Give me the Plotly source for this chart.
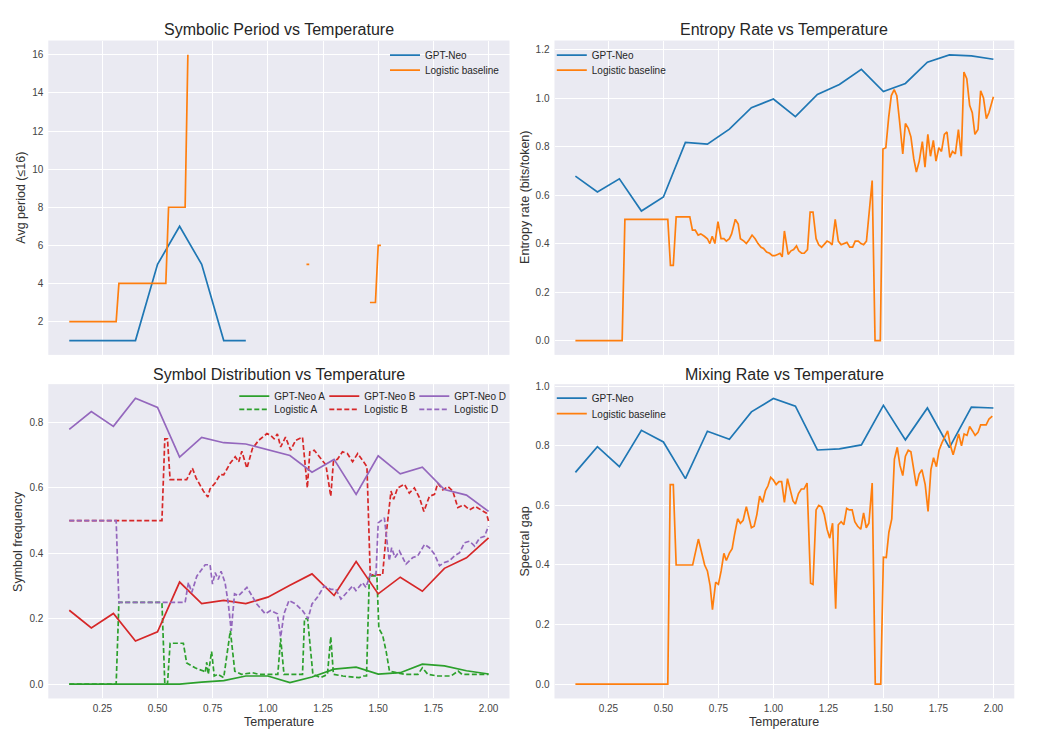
import plotly.graph_objects as go

# ---------------- data ----------------
T = [0.1, 0.2, 0.3, 0.4, 0.5, 0.6, 0.7, 0.8, 0.9, 1.0,
     1.1, 1.2, 1.3, 1.4, 1.5, 1.6, 1.7, 1.8, 1.9, 2.0]

period_neo = [1, 1, 1, 1, 5, 7, 5, 1, 1, None,
              None, None, None, None, None, None, None, None, None, None]

period_log_T = [0.1, 0.3125, 0.325, 0.5375, 0.55, 0.625, 0.6375, 0.65,
                1.175, 1.1875, 1.2, 1.4625, 1.475, 1.4875, 1.5, 1.5125]
period_log = [2, 2, 4, 4, 8, 8, 16, None,
              5, 5, None, 3, 3, 3, 6, 6]

entropy_neo = [0.678, 0.613, 0.667, 0.534, 0.592, 0.817, 0.810, 0.872, 0.960, 0.996,
               0.923, 1.015, 1.056, 1.118, 1.027, 1.060, 1.148, 1.178, 1.174, 1.160]

entropy_log_T = [0.1, 0.3125, 0.325, 0.52, 0.532, 0.545, 0.558, 0.62, 0.632, 0.645,
                 0.658, 0.67, 0.686, 0.70, 0.711, 0.722, 0.734, 0.748, 0.762, 0.775,
                 0.786, 0.80, 0.81, 0.827, 0.84, 0.85, 0.866, 0.877, 0.889, 0.903,
                 0.917, 0.93, 0.944, 0.955, 0.969, 0.983, 0.995, 1.006, 1.019, 1.03,
                 1.04, 1.05, 1.067, 1.08, 1.092, 1.105, 1.115, 1.128, 1.14, 1.155,
                 1.167, 1.18, 1.194, 1.206, 1.219, 1.23, 1.244, 1.256, 1.267, 1.281,
                 1.295, 1.308, 1.32, 1.334, 1.347, 1.36, 1.372, 1.386, 1.398, 1.41,
                 1.423, 1.436, 1.449, 1.462, 1.486, 1.498, 1.511, 1.524, 1.536, 1.549,
                 1.561, 1.574, 1.588, 1.6, 1.613, 1.625, 1.638, 1.65, 1.663, 1.677,
                 1.689, 1.702, 1.714, 1.727, 1.739, 1.752, 1.764, 1.777, 1.789, 1.802,
                 1.814, 1.827, 1.841, 1.854, 1.866, 1.879, 1.892, 1.904, 1.916, 1.93,
                 1.942, 1.955, 1.968, 1.98, 2.0]
entropy_log = [0.0, 0.0, 0.50, 0.50, 0.31, 0.31, 0.51, 0.51, 0.455, 0.455,
               0.435, 0.44, 0.43, 0.42, 0.40, 0.43, 0.40, 0.49, 0.42, 0.42,
               0.41, 0.42, 0.44, 0.50, 0.48, 0.42, 0.41, 0.40, 0.415, 0.435,
               0.42, 0.40, 0.385, 0.38, 0.365, 0.36, 0.35, 0.35, 0.355, 0.36,
               0.345, 0.452, 0.355, 0.37, 0.375, 0.39, 0.37, 0.36, 0.36, 0.375,
               0.53, 0.53, 0.42, 0.395, 0.385, 0.395, 0.41, 0.405, 0.395, 0.50,
               0.41, 0.395, 0.40, 0.405, 0.385, 0.385, 0.41, 0.41, 0.40, 0.395,
               0.41, 0.55, 0.66, 0.0, 0.0, 0.79, 0.795, 0.92, 1.01, 1.035,
               1.01, 0.90, 0.77, 0.895, 0.875, 0.84, 0.75, 0.695, 0.74, 0.82,
               0.715, 0.85, 0.76, 0.825, 0.74, 0.795, 0.78, 0.85, 0.86, 0.755,
               0.78, 0.77, 0.87, 0.76, 1.107, 1.08, 0.97, 0.94, 0.85, 0.87,
               1.03, 1.00, 0.915, 0.94, 1.005]

mix_neo = [0.711, 0.797, 0.730, 0.852, 0.813, 0.690, 0.849, 0.822, 0.914, 0.959,
           0.933, 0.786, 0.790, 0.803, 0.936, 0.820, 0.927, 0.794, 0.930, 0.927]

mix_log_T = [0.1, 0.52, 0.531, 0.545, 0.558, 0.633, 0.659, 0.6875, 0.70, 0.7125,
             0.723, 0.7375, 0.75, 0.7625, 0.775, 0.786, 0.80, 0.8125, 0.823, 0.8375,
             0.85, 0.8625, 0.877, 0.889, 0.90, 0.9125, 0.925, 0.9375, 0.951, 0.964,
             0.975, 0.9875, 1.0, 1.0125, 1.025, 1.0375, 1.05, 1.064, 1.077, 1.089,
             1.10, 1.114, 1.127, 1.139, 1.153, 1.169, 1.18, 1.194, 1.206, 1.219,
             1.231, 1.244, 1.256, 1.269, 1.283, 1.295, 1.308, 1.32, 1.333, 1.345,
             1.358, 1.37, 1.383, 1.397, 1.41, 1.422, 1.434, 1.449, 1.463, 1.488,
             1.5, 1.513, 1.525, 1.538, 1.55, 1.563, 1.575, 1.588, 1.6, 1.613,
             1.625, 1.6375, 1.65, 1.6625, 1.675, 1.69, 1.703, 1.716, 1.728, 1.741,
             1.753, 1.766, 1.778, 1.792, 1.805, 1.817, 1.83, 1.842, 1.855, 1.867,
             1.88, 1.892, 1.905, 1.917, 1.93, 1.942, 1.955, 1.967, 1.98, 1.995]
mix_log = [0.0, 0.0, 0.67, 0.67, 0.40, 0.40, 0.487, 0.40, 0.38, 0.33,
           0.25, 0.342, 0.335, 0.38, 0.439, 0.415, 0.44, 0.455, 0.50, 0.555,
           0.54, 0.55, 0.596, 0.555, 0.525, 0.53, 0.57, 0.631, 0.61, 0.65,
           0.665, 0.694, 0.685, 0.67, 0.68, 0.68, 0.61, 0.69, 0.655, 0.615,
           0.605, 0.64, 0.655, 0.655, 0.675, 0.339, 0.335, 0.585, 0.60, 0.595,
           0.57, 0.52, 0.49, 0.54, 0.253, 0.535, 0.545, 0.535, 0.59, 0.585,
           0.585, 0.545, 0.53, 0.52, 0.575, 0.525, 0.54, 0.675, 0.0, 0.0,
           0.426, 0.425, 0.51, 0.555, 0.755, 0.795, 0.735, 0.70, 0.765, 0.785,
           0.78, 0.72, 0.665, 0.705, 0.72, 0.67, 0.58, 0.72, 0.76, 0.73,
           0.785, 0.81, 0.83, 0.85, 0.80, 0.77, 0.805, 0.84, 0.80, 0.84,
           0.835, 0.865, 0.85, 0.835, 0.845, 0.87, 0.87, 0.87, 0.89, 0.90]

neo_A = [0.0, 0.0, 0.0, 0.0, 0.0, 0.0, 0.006, 0.011, 0.025, 0.025,
         0.005, 0.022, 0.046, 0.052, 0.031, 0.035, 0.061, 0.056, 0.041, 0.031]
neo_B = [0.226, 0.172, 0.216, 0.132, 0.160, 0.312, 0.246, 0.256, 0.246, 0.266,
         0.302, 0.337, 0.271, 0.375, 0.276, 0.327, 0.284, 0.354, 0.386, 0.447]
neo_D = [0.779, 0.833, 0.788, 0.874, 0.846, 0.694, 0.754, 0.738, 0.734, 0.716,
         0.699, 0.648, 0.687, 0.580, 0.698, 0.643, 0.663, 0.595, 0.578, 0.528]

log_A_T = [0.1, 0.3125, 0.325, 0.52, 0.533, 0.545, 0.557, 0.617, 0.632, 0.67,
           0.708, 0.716, 0.723, 0.73, 0.745, 0.757, 0.773, 0.80, 0.83, 0.85,
           0.88, 0.93, 0.96, 1.013, 1.045, 1.058, 1.073, 1.10, 1.157, 1.166,
           1.18, 1.204, 1.24, 1.27, 1.285, 1.297, 1.34, 1.414, 1.434, 1.447,
           1.46, 1.494, 1.503, 1.52, 1.536, 1.551, 1.58, 1.62, 1.68, 1.70,
           1.725, 1.77, 1.83, 1.862, 1.88, 1.95, 2.0]
log_A = [0.0, 0.0, 0.25, 0.25, 0.0, 0.0, 0.125, 0.125, 0.065, 0.05,
         0.04, 0.035, 0.067, 0.03, 0.10, 0.025, 0.03, 0.02, 0.164, 0.04,
         0.03, 0.035, 0.03, 0.03, 0.03, 0.14, 0.03, 0.03, 0.03, 0.20,
         0.20, 0.03, 0.02, 0.03, 0.145, 0.03, 0.025, 0.02, 0.025, 0.025,
         0.331, 0.331, 0.17, 0.15, 0.10, 0.04, 0.035, 0.03, 0.03, 0.05,
         0.03, 0.025, 0.025, 0.04, 0.03, 0.03, 0.03]

log_B_T = [0.1, 0.52, 0.533, 0.545, 0.557, 0.632, 0.658, 0.675, 0.708, 0.728,
           0.738, 0.761, 0.784, 0.80, 0.829, 0.852, 0.868, 0.882, 0.905, 0.93,
           0.958, 0.996, 1.013, 1.028, 1.043, 1.058, 1.08, 1.103, 1.126, 1.157,
           1.179, 1.19, 1.21, 1.24, 1.263, 1.285, 1.297, 1.316, 1.338, 1.36,
           1.384, 1.407, 1.43, 1.449, 1.464, 1.52, 1.535, 1.558, 1.57, 1.588,
           1.619, 1.641, 1.664, 1.687, 1.707, 1.732, 1.755, 1.77, 1.793, 1.816,
           1.838, 1.861, 1.888, 1.914, 1.94, 1.964, 1.99, 2.0]
log_B = [0.5, 0.5, 0.75, 0.75, 0.625, 0.625, 0.66, 0.63, 0.59, 0.572,
         0.597, 0.615, 0.641, 0.64, 0.675, 0.695, 0.68, 0.712, 0.66, 0.72,
         0.745, 0.766, 0.76, 0.75, 0.765, 0.725, 0.755, 0.715, 0.745, 0.755,
         0.60, 0.71, 0.715, 0.69, 0.67, 0.574, 0.68, 0.688, 0.71, 0.705,
         0.68, 0.705, 0.685, 0.665, 0.334, 0.334, 0.45, 0.59, 0.565, 0.60,
         0.611, 0.584, 0.60, 0.57, 0.528, 0.574, 0.58, 0.614, 0.594, 0.604,
         0.59, 0.54, 0.548, 0.533, 0.543, 0.533, 0.523, 0.498]

log_D_T = [0.1, 0.3125, 0.325, 0.625, 0.64, 0.655, 0.678, 0.716, 0.738, 0.749,
           0.761, 0.775, 0.788, 0.806, 0.82, 0.834, 0.849, 0.867, 0.905, 0.928,
           0.95, 0.988, 1.013, 1.043, 1.058, 1.073, 1.096, 1.126, 1.157, 1.182,
           1.2, 1.225, 1.255, 1.285, 1.308, 1.331, 1.353, 1.384, 1.399, 1.429,
           1.444, 1.464, 1.49, 1.5, 1.528, 1.55, 1.561, 1.576, 1.596, 1.626,
           1.657, 1.679, 1.71, 1.732, 1.755, 1.778, 1.8, 1.823, 1.846, 1.869,
           1.891, 1.914, 1.937, 1.96, 1.982, 2.0]
log_D = [0.5, 0.5, 0.25, 0.25, 0.311, 0.28, 0.33, 0.365, 0.365, 0.306,
         0.341, 0.32, 0.345, 0.31, 0.25, 0.163, 0.276, 0.27, 0.296, 0.27,
         0.245, 0.215, 0.225, 0.215, 0.144, 0.215, 0.256, 0.245, 0.225, 0.20,
         0.245, 0.266, 0.30, 0.29, 0.29, 0.26, 0.276, 0.30, 0.286, 0.31,
         0.296, 0.334, 0.336, 0.493, 0.508, 0.377, 0.417, 0.387, 0.407, 0.367,
         0.387, 0.392, 0.427, 0.417, 0.397, 0.362, 0.372, 0.377, 0.392, 0.402,
         0.432, 0.437, 0.422, 0.447, 0.452, 0.483]

x_ticks = [0.25, 0.5, 0.75, 1.0, 1.25, 1.5, 1.75, 2.0]

# ---------------- style / layout ----------------
W, H = 1061, 739
BLUE, ORANGE = "#1f77b4", "#ff7f0e"
GREEN, RED, PURPLE = "#2ca02c", "#d62728", "#9467bd"
FONT = "Liberation Sans, Arial, sans-serif"
LW = 1.7
DASH = "5px,2.5px"

def fx(px):
    return px / W

def fy(py):
    return 1 - py / H

COLS = [(48.3, 509.5), (554.5, 1014.3)]
ROWS = [(37.7, 353.3), (382.7, 698.3)]

fig = go.Figure()

def line(x, y, color, name, xa, ya, legend, dash=None, lw=None):
    tr = go.Scatter(
        x=x, y=y, mode="lines", name=name, showlegend=True,
        line=dict(color=color, width=LW, dash=dash),
        xaxis=xa, yaxis=ya, legend=legend, connectgaps=False,
    )
    if lw is not None:
        tr.legendwidth = lw
    fig.add_trace(tr)

# panel 1: period
line(T, period_neo, BLUE, "GPT-Neo", "x", "y", "legend")
line(period_log_T, period_log, ORANGE, "Logistic baseline", "x", "y", "legend2")
# panel 2: entropy
line(T, entropy_neo, BLUE, "GPT-Neo", "x2", "y2", "legend3")
line(entropy_log_T, entropy_log, ORANGE, "Logistic baseline", "x2", "y2", "legend4")
# panel 3: symbol distribution
line(T, neo_A, GREEN, "GPT-Neo A", "x3", "y3", "legend5")
line(log_A_T, log_A, GREEN, "Logistic A", "x3", "y3", "legend6", DASH)
line(T, neo_B, RED, "GPT-Neo B", "x3", "y3", "legend5")
line(log_B_T, log_B, RED, "Logistic B", "x3", "y3", "legend6", DASH)
line(T, neo_D, PURPLE, "GPT-Neo D", "x3", "y3", "legend5", None, 70)
line(log_D_T, log_D, PURPLE, "Logistic D", "x3", "y3", "legend6", DASH, 70)
# panel 4: mixing
line(T, mix_neo, BLUE, "GPT-Neo", "x4", "y4", "legend7")
line(mix_log_T, mix_log, ORANGE, "Logistic baseline", "x4", "y4", "legend8")

axis_common = dict(
    showgrid=True, gridcolor="white", gridwidth=1, zeroline=False,
    showline=False, ticks="", tickfont=dict(family=FONT, size=10, color="#444"),
)

layout = dict(
    width=W, height=H, autosize=False, showlegend=True,
    margin=dict(l=0, r=0, t=0, b=0),
    paper_bgcolor="white", plot_bgcolor="#EAEAF2",
    font=dict(family=FONT, color="#262626"),
)

panels = [
    ("", "y", 0, 0, [0.25, 16.75], 2, "d", False),
    ("2", "y2", 1, 0, [-0.0589, 1.237], 0.2, ".1f", False),
    ("3", "y3", 0, 1, [-0.0437, 0.917], 0.2, ".1f", True),
    ("4", "y4", 1, 1, [-0.048, 1.007], 0.2, ".1f", True),
]
for suf, yname, c, r, yr, dt, yfmt, showx in panels:
    x0, x1 = COLS[c]
    y0, y1 = ROWS[r]
    layout["xaxis" + suf] = dict(
        axis_common, domain=[fx(x0), fx(x1)], range=[0.005, 2.095],
        tickvals=x_ticks, tickformat=".2f", showticklabels=showx,
        anchor="y" + suf, ticklabelstandoff=3,
    )
    layout["yaxis" + suf] = dict(
        axis_common, domain=[fy(y1), fy(y0)], range=yr, dtick=dt, tick0=0,
        tickformat=yfmt, anchor="x" + suf, ticklabelstandoff=4,
    )

def leg(x_left, y_center, horizontal=False):
    d = dict(x=fx(x_left), y=fy(y_center), xanchor="left", yanchor="middle",
             bgcolor="rgba(0,0,0,0)", borderwidth=0, visible=True,
             font=dict(family=FONT, size=10, color="#262626"),
             orientation="h" if horizontal else "v")
    if horizontal:
        d["entrywidth"] = 45
        d["entrywidthmode"] = "pixels"
    return d

layout["legend"] = leg(385, 52.3)
layout["legend2"] = leg(385, 67.3)
layout["legend3"] = leg(551.8, 52.3)
layout["legend4"] = leg(551.8, 67.3)
layout["legend5"] = leg(234.3, 394.7, True)
layout["legend6"] = leg(234.3, 408.0, True)
layout["legend7"] = leg(551.8, 396.7)
layout["legend8"] = leg(551.8, 412.3)

fig.update_layout(**layout)

titles = ["Symbolic Period vs Temperature", "Entropy Rate vs Temperature",
          "Symbol Distribution vs Temperature", "Mixing Rate vs Temperature"]
title_pos = [(0, 26.7), (1, 26.7), (0, 372.7), (1, 372.7)]
for t, (c, yc) in zip(titles, title_pos):
    xc = (COLS[c][0] + COLS[c][1]) / 2
    fig.add_annotation(text=t, x=fx(xc), y=fy(yc), xref="paper", yref="paper",
                       xanchor="center", yanchor="middle", showarrow=False,
                       font=dict(family=FONT, size=16, color="#262626"))

for c in (0, 1):
    xc = (COLS[c][0] + COLS[c][1]) / 2
    fig.add_annotation(text="Temperature", x=fx(xc), y=fy(721.7), xref="paper",
                       yref="paper", xanchor="center", yanchor="middle",
                       showarrow=False, font=dict(family=FONT, size=12.5, color="#333"))

ylabels = [("Avg period (≤16)", 21.0, 0), ("Entropy rate (bits/token)", 525.2, 0),
           ("Symbol frequency", 18.6, 1), ("Spectral gap", 525.2, 1)]
for t, xc, r in ylabels:
    yc = (ROWS[r][0] + ROWS[r][1]) / 2
    fig.add_annotation(text=t, x=fx(xc), y=fy(yc), xref="paper", yref="paper",
                       xanchor="center", yanchor="middle", textangle=-90,
                       showarrow=False, font=dict(family=FONT, size=12.5, color="#333"))

fig.write_html("out.html")
